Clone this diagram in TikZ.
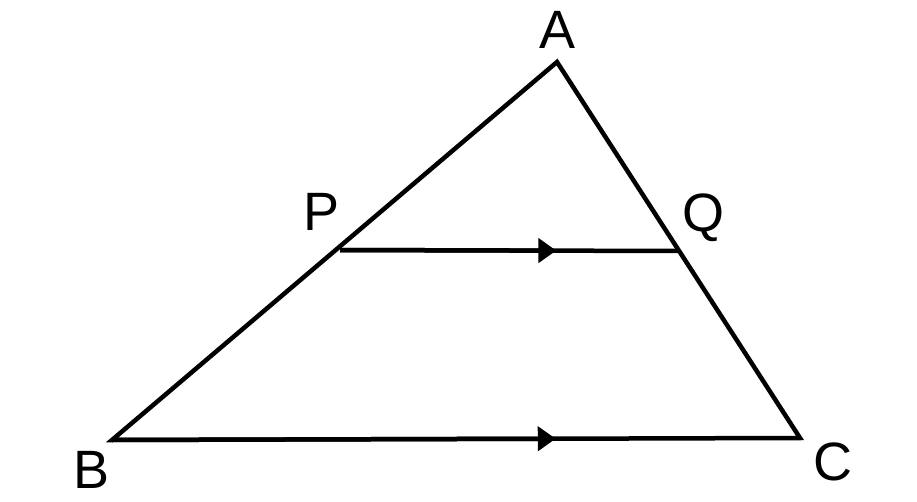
\documentclass[tikz,border=0pt]{standalone}
\usepackage{fontspec}
\setmainfont{Liberation Sans}
\usetikzlibrary{calc,arrows.meta}
\begin{document}
\begin{tikzpicture}[x=1pt,y=-1pt,
  edge/.style={line width=4.5pt,line join=miter},
  lbl/.style={font=\fontsize{54}{60}\selectfont,inner sep=0pt},
  mid/.style={line width=4.5pt,-{Triangle[length=18pt,width=24pt]}}]
\useasboundingbox (0,0) rectangle (917,502);
\coordinate (A) at (557,62);
\coordinate (B) at (112,440);
\coordinate (C) at (800,438);
\coordinate (P) at (340,250);
\coordinate (Q) at (678,251);
\draw[edge] (B) -- (A) -- (C) -- cycle;
\draw[edge] (P) -- (Q);
\draw[mid] (P) -- ($(P)!0.64!(Q)$);
\draw[mid] (B) -- ($(B)!0.645!(C)$);
\node[lbl] (la) at (557,30) {A};
\node[lbl] (lb) at (92,470) {B};
\node[lbl] (lc) at (833,462) {C};
\node[lbl] (lp) at (322,212) {P};
\node[lbl] (lq) at (703,218) {Q};
\end{tikzpicture}
\end{document}
